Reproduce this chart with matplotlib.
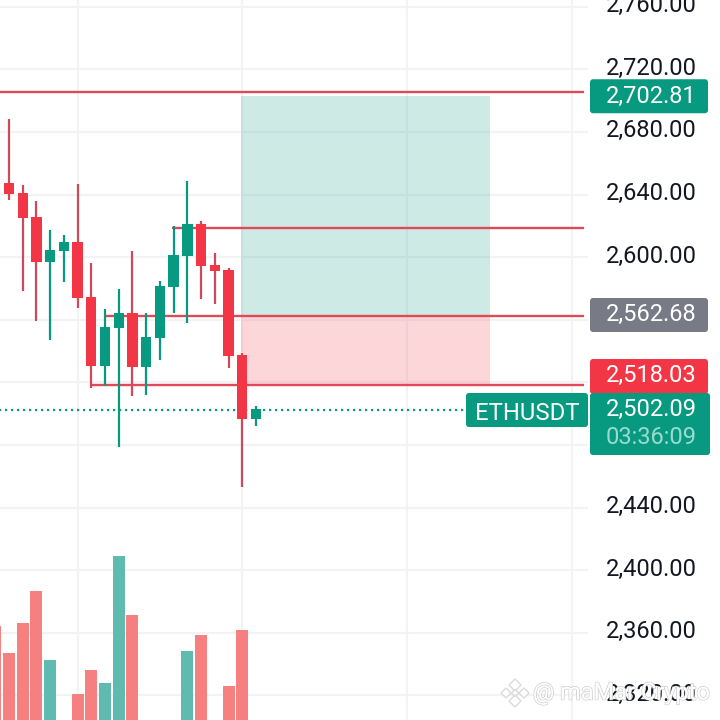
import matplotlib
matplotlib.use('Agg')
import matplotlib.pyplot as plt
import matplotlib.patheffects as pe
from matplotlib.patches import FancyBboxPatch, Polygon, Rectangle
from matplotlib.transforms import ScaledTranslation

plt.rcParams['font.family'] = ['Roboto', 'DejaVu Sans']

# candles
opens = [2647.4, 2641.0, 2625.7, 2596.9, 2604.0, 2609.7, 2574.6, 2530.5, 2554.8, 2564.3,
         2529.8, 2548.4, 2581.0, 2600.8, 2621.2, 2595.0, 2591.8, 2537.5, 2496.6]
closes = [2640.2, 2625.0, 2596.9, 2604.6, 2609.7, 2574.0, 2530.5, 2555.4, 2564.3, 2529.8,
          2549.0, 2581.6, 2601.4, 2621.2, 2594.4, 2591.2, 2536.9, 2496.6, 2502.8]
highs = [2688.3, 2646.1, 2635.9, 2617.4, 2614.2, 2646.8, 2596.3, 2566.9, 2579.7, 2604.0,
         2564.3, 2584.8, 2619.9, 2648.7, 2623.1, 2602.7, 2593.1, 2538.8, 2504.9]
lows = [2636.8, 2578.4, 2559.4, 2547.1, 2584.1, 2567.5, 2516.6, 2517.7, 2478.7, 2511.3,
        2511.9, 2534.3, 2564.3, 2558.0, 2573.3, 2570.1, 2529.2, 2453.1, 2492.2]

# volume bars (only the ones visible), arbitrary units
vol_idx = [-1, 0, 1, 2, 3, 5, 6, 7, 8, 9, 13, 14, 16, 17]
vol_val = [94, 67, 97, 129, 60, 26, 50, 37, 164, 105, 69, 85, 34, 90]
vol_up = [False, False, False, False, True, False, False, True, True, False, True, False, False, False]

# drawn lines: price, first candle index
line_prices = [2705.6, 2618.7, 2562.7, 2518.3]
line_starts = [-1, 11.9, 7.1, 6.0]

tp_price = 2702.81
entry_price = 2562.68
stop_price = 2518.03
last_price = 2502.09
box_start = 16.9
box_end = 35.06

price_ticks = [2760, 2720, 2680, 2640, 2600, 2560, 2520, 2480, 2440, 2400, 2360, 2320]
tick_labels = ['2,760.00', '2,720.00', '2,680.00', '2,640.00', '2,600.00', '', '', '',
               '2,440.00', '2,400.00', '2,360.00', '2,320.00']
time_ticks = [5, 17, 29, 41]

RED = '#F23645'
WICK_RED = '#CE4A5A'
GREEN = '#089981'

fig = plt.figure(figsize=(7.2, 7.2), dpi=100)
fig.patch.set_facecolor('white')

# grid goes on the back axes so it stays under the volume bars
back = fig.add_axes([0, 0, 588 / 720, 1])
ax2 = fig.add_axes([0, 0, 588 / 720, 1], sharex=back)
ax = fig.add_axes([0, 0, 588 / 720, 1], sharex=back)
ax2.set_zorder(1)
ax.set_zorder(2)
ax.patch.set_visible(False)
ax2.patch.set_visible(False)

ax.set_xlim(-0.656, 42.2)
ax.set_ylim(2304.3, 2764.3)
back.set_ylim(2304.3, 2764.3)
ax2.set_ylim(0, 720)
ax2.axis('off')

back.set_xticks(time_ticks)
back.set_yticks(price_ticks)
back.tick_params(length=0, labelbottom=False, labelleft=False)
back.grid(True, color='#F2F3F5', linewidth=1.5)
for s in back.spines.values():
    s.set_visible(False)

# volume
for i, v, up in zip(vol_idx, vol_val, vol_up):
    ax2.bar(i, v, width=0.875, color='#5FBBB0' if up else '#F68080', linewidth=0)

ax.set_yticks(price_ticks)
ax.set_yticklabels(tick_labels)
ax.yaxis.tick_right()
ax.tick_params(axis='y', length=0, pad=13.2, labelsize=17, labelcolor='#131722')
ax.tick_params(axis='x', length=0, labelbottom=False)
for lab in ax.get_yticklabels():
    lab.set_transform(lab.get_transform() + ScaledTranslation(0, 3.5 / 100, fig.dpi_scale_trans))
for s in ax.spines.values():
    s.set_visible(False)

# long position boxes
ax.add_patch(Rectangle((box_start, entry_price), box_end - box_start, tp_price - entry_price,
                       facecolor=GREEN, alpha=0.2, linewidth=0, zorder=1))
ax.add_patch(Rectangle((box_start, stop_price), box_end - box_start, entry_price - stop_price,
                       facecolor=RED, alpha=0.2, linewidth=0, zorder=1))

# drawn lines
for p, st in zip(line_prices, line_starts):
    ax.plot([st, 41.9], [p, p], color='#E34858', linewidth=1.7, zorder=2, solid_capstyle='butt')

# last price line
ax.plot([-1, 33.4], [last_price, last_price], color=GREEN, linewidth=1.6, zorder=2,
        linestyle=(0, (1, 1.7)))

# candles
for i in range(len(opens)):
    up = closes[i] >= opens[i]
    ax.plot([i, i], [lows[i], highs[i]], color=GREEN if up else WICK_RED, linewidth=1.6,
            zorder=3, solid_capstyle='butt')
    ax.bar(i, abs(closes[i] - opens[i]), bottom=min(opens[i], closes[i]), width=0.75,
           color=GREEN if up else RED, linewidth=0, zorder=4)

# overlay in pixels for the price labels
ov = fig.add_axes([0, 0, 1, 1], zorder=5)
ov.set_xlim(0, 720)
ov.set_ylim(720, 0)
ov.axis('off')


def py(price):
    return 720 - ax.transData.transform((0, price))[1]


def tag(x0, x1, y0, y1, color):
    r = 3
    ov.add_patch(FancyBboxPatch((x0 + r, y0 + r), x1 - x0 - 2 * r, y1 - y0 - 2 * r,
                                boxstyle='round,pad=%d,rounding_size=%d' % (r, r),
                                facecolor=color, edgecolor='none'))


def tag_text(y, s, color='white'):
    ov.text(606, y, s, color=color, fontsize=17, va='center_baseline', ha='left')


yy = py(tp_price)
tag(590, 708, yy - 17, yy + 17, GREEN)
tag_text(yy - 2.5, '2,702.81')
tag(590, 708, 298, 332, '#787B86')
tag_text(py(entry_price) - 3.5, '2,562.68')
tag(590, 708, 359, 394, RED)
tag_text(py(stop_price) - 12.5, '2,518.03')
tag(590, 710, 393, 455, GREEN)
tag_text(py(last_price) - 3, '2,502.09')
tag_text(435, '03:36:09', '#9ADBCF')
tag(466, 588, 393, 427, GREEN)
ov.text(527.5, 410.5, 'ETHUSDT', color='white', fontsize=17.2, va='center_baseline', ha='center')

# watermark
cx, cy = 515, 693
for dx, dy, s in [(0, -8, 6), (-9, 0, 5), (9, 0, 5), (0, 8, 6), (0, 0, 3.5)]:
    ov.add_patch(Polygon([(cx + dx, cy + dy - s), (cx + dx + s, cy + dy),
                          (cx + dx, cy + dy + s), (cx + dx - s, cy + dy)],
                         facecolor='white', edgecolor='#D8D8D8', linewidth=1.0, alpha=0.9))
ov.text(533, 693, '@ maMar Crypto', color='white', fontsize=17, va='center', ha='left',
        path_effects=[pe.withStroke(linewidth=1.1, foreground='#C4C4C4'),
                      pe.Normal()], alpha=0.85)

fig.savefig('out.png', dpi=100)
